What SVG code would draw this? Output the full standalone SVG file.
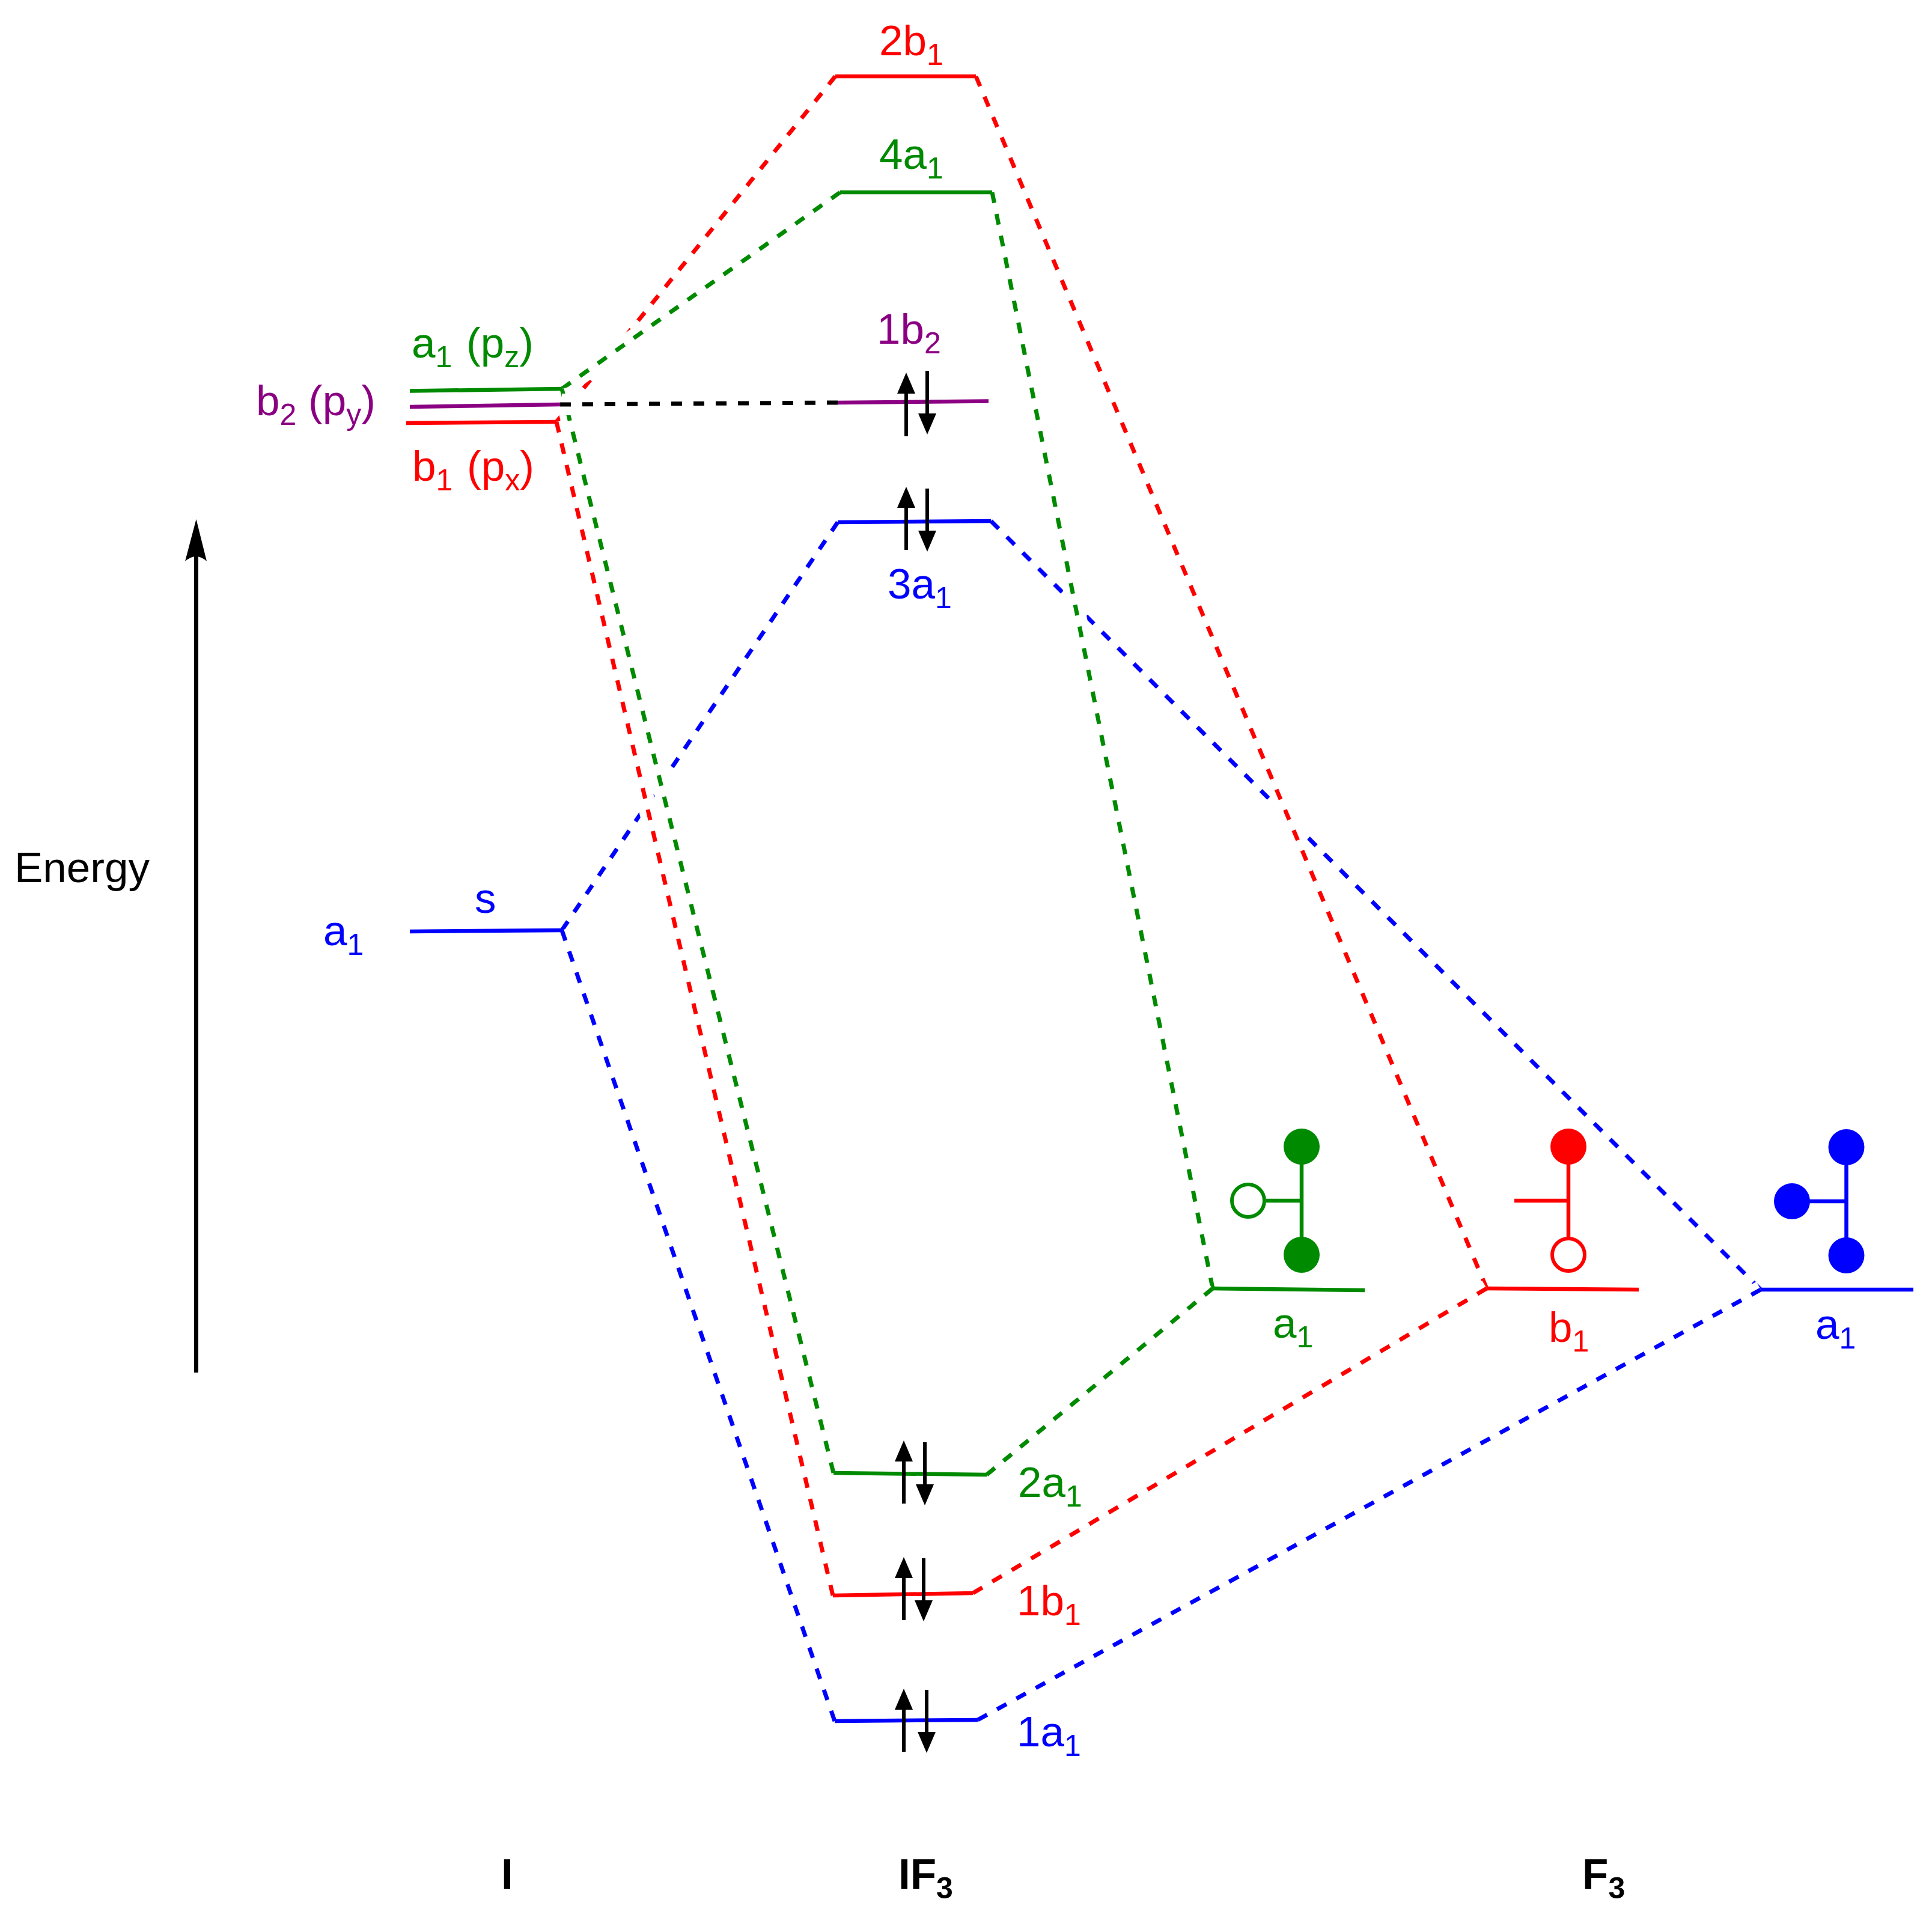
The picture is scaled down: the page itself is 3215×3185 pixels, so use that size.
<svg xmlns="http://www.w3.org/2000/svg" width="3215" height="3185" viewBox="0 0 3215 3185">
<defs>
<style>
text{font-family:"Liberation Sans",Arial,sans-serif;font-size:71px}
.b{font-weight:bold}
.s{font-size:50px}
.lv,.st{fill:none;stroke-width:6.5}
.d{fill:none;stroke-width:7;stroke-dasharray:18 19}
.c{fill:none;stroke:#fff;stroke-width:30}
.g{stroke:#008a00}.r{stroke:#f00}.u{stroke:#00f}.p{stroke:#8b0083}.k{stroke:#000}
.tg{fill:#008a00}.tr{fill:#f00}.tu{fill:#00f}.tp{fill:#8b0083}.tk{fill:#000}
.ah{fill:#000}.sh{stroke:#000;stroke-width:6;fill:none}
</style>
</defs>
<rect width="3215" height="3185" fill="#fff"/>
<g id="connectors">
<path class="c" d="M935 1548L1394 869"/><path class="d u" pathLength="832" d="M935 1548L1394 869"/>
<path class="c" d="M935 1548L1389 2864"/><path class="d u" pathLength="1387" d="M935 1548L1389 2864"/>
<path class="c" d="M1649 867L2930 2146"/><path class="d u" pathLength="1794" d="M1649 867L2930 2146"/>
<path class="c" d="M1627 2862L2930 2146"/><path class="d u" pathLength="1498" d="M1627 2862L2930 2146"/>
<path class="c" d="M926 702L1390 127"/><path class="d r" pathLength="758" d="M926 702L1390 127"/>
<path class="c" d="M926 702L1386 2655"/><path class="d r" pathLength="2016" d="M926 702L1386 2655"/>
<path class="c" d="M1624 127L2474 2144"/><path class="d r" pathLength="2201" d="M1624 127L2474 2144"/>
<path class="c" d="M1619 2651L2474 2144"/><path class="d r" pathLength="980" d="M1619 2651L2474 2144"/>
<path class="c" d="M935 647L1398 320"/><path class="d g" pathLength="573" d="M935 647L1398 320"/>
<path class="c" d="M935 647L1387 2451"/><path class="d g" pathLength="1868" d="M935 647L1387 2451"/>
<path class="c" d="M1651 320L2018 2144"/><path class="d g" pathLength="1868" d="M1651 320L2018 2144"/>
<path class="c" d="M1642 2454L2018 2144"/><path class="d g" pathLength="499" d="M1642 2454L2018 2144"/>
<path class="c" style="stroke-width:36" d="M935 673L1394 670"/><path class="d k" pathLength="462" d="M932 673L1394 670"/>
</g>
<g id="energy-axis">
<path class="sh" style="stroke-width:7" d="M326.500 2284V920"/><path class="ah" d="M326.500 864L344 934Q326.500 918 308 934Z"/>
<text x="24" y="1468" class="tk">Energy</text>
</g>
<g id="I-a1-pz"><path class="lv g" d="M682 650.500L935 647"/><text x="685" y="595" class="tg">a<tspan class="s" dy="16">1</tspan><tspan dy="-16" dx="4"> (p</tspan><tspan class="s" dy="16">z</tspan><tspan dy="-16">)</tspan></text></g>
<g id="I-b2-py"><path class="lv p" d="M682 677L932 673"/><text x="426" y="691" class="tp">b<tspan class="s" dy="16">2</tspan><tspan dy="-16"> (p</tspan><tspan class="s" dy="16">y</tspan><tspan dy="-16">)</tspan></text></g>
<g id="I-b1-px"><path class="lv r" d="M676 704L926 702"/><text x="686" y="800" class="tr">b<tspan class="s" dy="16">1</tspan><tspan dy="-16" dx="4"> (p</tspan><tspan class="s" dy="16">x</tspan><tspan dy="-16">)</tspan></text></g>
<g id="I-a1-s"><path class="lv u" d="M682 1550L935 1548"/><text x="790" y="1519" class="tu">s</text><text x="538" y="1573" class="tu">a<tspan class="s" dy="16">1</tspan></text></g>
<g id="mo-2b1"><path class="lv r" d="M1390 127H1624"/><text x="1463" y="92" class="tr">2b<tspan class="s" dy="16">1</tspan></text></g>
<g id="mo-4a1"><path class="lv g" d="M1398 320H1651"/><text x="1463" y="281" class="tg">4a<tspan class="s" dy="16">1</tspan></text></g>
<g id="mo-1b2"><path class="lv p" d="M1394 670L1645 667.500"/><text x="1459" y="572" class="tp">1b<tspan class="s" dy="16">2</tspan></text>
<path class="sh" d="M1508 726V655"/><path class="ah" d="M1508 620L1523 655H1493Z"/><path class="sh" d="M1543 617V688"/><path class="ah" d="M1543 723L1528 688H1558Z"/></g>
<g id="mo-3a1"><path class="lv u" d="M1394 869L1649 867"/><text x="1477" y="996" class="tu">3a<tspan class="s" dy="16">1</tspan></text>
<path class="sh" d="M1508 915V845"/><path class="ah" d="M1508 810L1523 845H1493Z"/><path class="sh" d="M1543 813V883"/><path class="ah" d="M1543 918L1528 883H1558Z"/></g>
<g id="mo-2a1"><path class="lv g" d="M1387 2451L1642 2454"/><text x="1694" y="2491" class="tg">2a<tspan class="s" dy="16">1</tspan></text>
<path class="sh" d="M1504 2502V2432"/><path class="ah" d="M1504 2397L1519 2432H1489Z"/><path class="sh" d="M1539 2400V2470"/><path class="ah" d="M1539 2505L1524 2470H1554Z"/></g>
<g id="mo-1b1"><path class="lv r" d="M1386 2655L1619 2651"/><text x="1692" y="2688" class="tr">1b<tspan class="s" dy="16">1</tspan></text>
<path class="sh" d="M1504 2696V2626"/><path class="ah" d="M1504 2591L1519 2626H1489Z"/><path class="sh" d="M1537 2593V2663"/><path class="ah" d="M1537 2698L1522 2663H1552Z"/></g>
<g id="mo-1a1"><path class="lv u" d="M1389 2864L1627 2862"/><text x="1692" y="2906" class="tu">1a<tspan class="s" dy="16">1</tspan></text>
<path class="sh" d="M1504 2915V2845"/><path class="ah" d="M1504 2810L1519 2845H1489Z"/><path class="sh" d="M1542 2812V2882"/><path class="ah" d="M1542 2917L1527 2882H1557Z"/></g>
<g id="F3-a1-green"><path class="lv g" d="M2018 2144L2271 2147"/><text x="2118" y="2226" class="tg">a<tspan class="s" dy="16">1</tspan></text>
<path class="st g" d="M2166 1908V2088M2107 1998H2166"/><circle cx="2166" cy="1908" r="30" class="tg"/><circle cx="2166" cy="2088" r="30" class="tg"/><circle cx="2077" cy="1998" r="27" fill="#fff" stroke="#008a00" stroke-width="6"/></g>
<g id="F3-b1-red"><path class="lv r" d="M2474 2144L2727 2146"/><text x="2577" y="2233" class="tr">b<tspan class="s" dy="16">1</tspan></text>
<path class="st r" d="M2610 1908V2060M2520 1998H2610"/><circle cx="2610" cy="1908" r="30" class="tr"/><circle cx="2610" cy="2088" r="27" fill="#fff" stroke="#f00" stroke-width="6"/></g>
<g id="F3-a1-blue"><path class="lv u" d="M2930 2146H3184"/><text x="3021" y="2228" class="tu">a<tspan class="s" dy="16">1</tspan></text>
<path class="st u" d="M3072.500 1909V2089M2982 1999H3072.500"/><circle cx="3072.500" cy="1909" r="30" class="tu"/><circle cx="3072.500" cy="2089" r="30" class="tu"/><circle cx="2982" cy="1999" r="30" class="tu"/></g>
<g id="col-labels">
<text x="834" y="3143" class="b">I</text>
<text x="1495" y="3143" class="b">IF<tspan class="s" dy="16">3</tspan></text>
<text x="2633" y="3143" class="b">F<tspan class="s" dy="16">3</tspan></text>
</g>
</svg>
